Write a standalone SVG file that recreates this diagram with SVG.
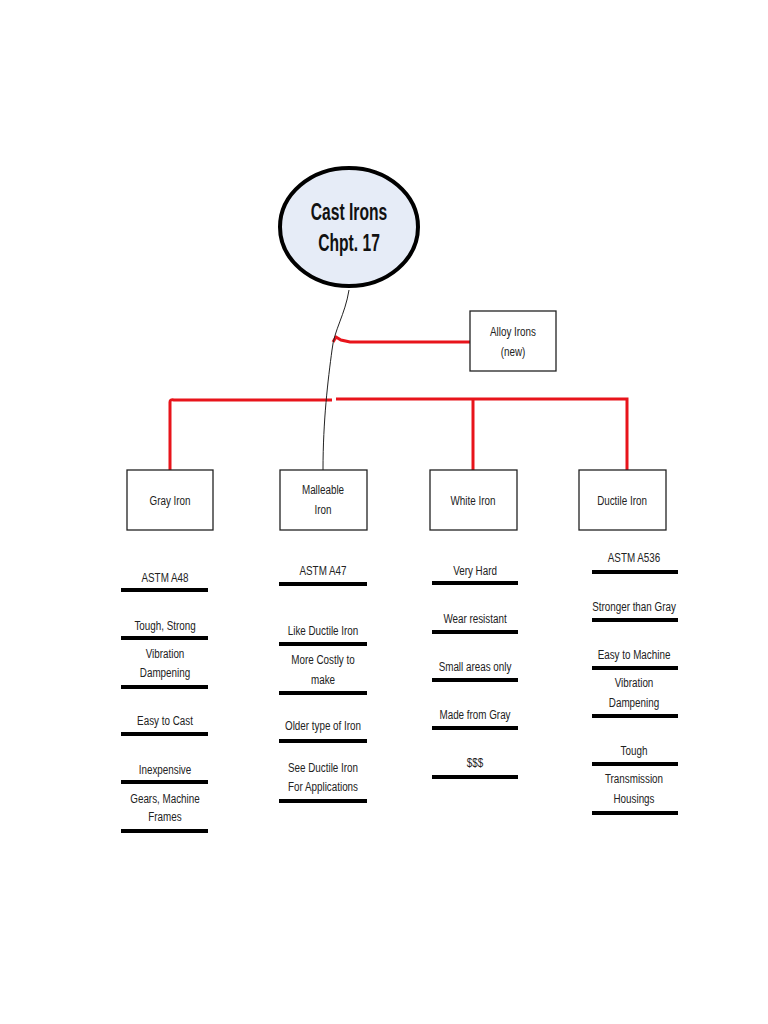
<svg xmlns="http://www.w3.org/2000/svg" width="768" height="1024" viewBox="0 0 768 1024">
<style>
.t{font-family:"Liberation Sans",Arial,sans-serif;font-size:13.5px;fill:#222;text-anchor:middle}
.h{font-family:"Liberation Sans",Arial,sans-serif;font-size:23px;font-weight:bold;fill:#111;text-anchor:middle}
.box{fill:#fff;stroke:#222;stroke-width:1.3}
.red{fill:none;stroke:#e8141b;stroke-width:3}
.ul{stroke:#000;stroke-width:4}
</style>
<rect width="768" height="1024" fill="#fff"/>
<g id="connectors">
<path class="red" d="M170,470 L170,402 Q170,399 174,400 L332,400 M336,399 L627,399 L627,473"/>
<path class="red" d="M473,399 L473,470"/>
<path class="red" d="M333,342 L336,337 L341,340 L350,342 L470,342"/>
<path d="M349,290 C345,315 334,330 332,350 C328,380 323,420 323,470" fill="none" stroke="#222" stroke-width="1"/>
</g>
<g id="root">
<ellipse cx="349" cy="227" rx="69" ry="59" fill="#e6ecf7" stroke="#000" stroke-width="4"/>
<text class="h" transform="translate(349 220) scale(0.68 1)">Cast Irons</text>
<text class="h" transform="translate(349 251) scale(0.68 1)">Chpt. 17</text>
</g>
<g id="alloy">
<rect class="box" x="470" y="311" width="86" height="60"/>
<text class="t" transform="translate(513 336) scale(0.73 1)">Alloy Irons</text>
<text class="t" transform="translate(513 356) scale(0.73 1)">(new)</text>
</g>
<g id="gray">
<rect class="box" x="127" y="470" width="86" height="60"/>
<text class="t" transform="translate(170 505) scale(0.73 1)">Gray Iron</text>
</g>
<g id="malleable">
<rect class="box" x="280" y="470" width="87" height="60"/>
<text class="t" transform="translate(323 494) scale(0.73 1)">Malleable</text>
<text class="t" transform="translate(323 514) scale(0.73 1)">Iron</text>
</g>
<g id="white">
<rect class="box" x="430" y="470" width="87" height="60"/>
<text class="t" transform="translate(473 505) scale(0.73 1)">White Iron</text>
</g>
<g id="ductile">
<rect class="box" x="579" y="470" width="87" height="60"/>
<text class="t" transform="translate(622 505) scale(0.73 1)">Ductile Iron</text>
</g>
<g id="gray-list">
<text class="t" transform="translate(165 582) scale(0.73 1)">ASTM A48</text>
<line class="ul" x1="121" y1="590" x2="208" y2="590"/>
<text class="t" transform="translate(165 630) scale(0.73 1)">Tough, Strong</text>
<line class="ul" x1="121" y1="638" x2="208" y2="638"/>
<text class="t" transform="translate(165 658) scale(0.73 1)">Vibration</text>
<text class="t" transform="translate(165 677) scale(0.73 1)">Dampening</text>
<line class="ul" x1="121" y1="687" x2="208" y2="687"/>
<text class="t" transform="translate(165 725) scale(0.73 1)">Easy to Cast</text>
<line class="ul" x1="121" y1="734" x2="208" y2="734"/>
<text class="t" transform="translate(165 774) scale(0.73 1)">Inexpensive</text>
<line class="ul" x1="121" y1="782" x2="208" y2="782"/>
<text class="t" transform="translate(165 803) scale(0.73 1)">Gears, Machine</text>
<text class="t" transform="translate(165 821) scale(0.73 1)">Frames</text>
<line class="ul" x1="121" y1="831" x2="208" y2="831"/>
</g>
<g id="malleable-list">
<text class="t" transform="translate(323 575) scale(0.73 1)">ASTM A47</text>
<line class="ul" x1="279" y1="584" x2="367" y2="584"/>
<text class="t" transform="translate(323 635) scale(0.73 1)">Like Ductile Iron</text>
<line class="ul" x1="279" y1="644" x2="367" y2="644"/>
<text class="t" transform="translate(323 664) scale(0.73 1)">More Costly to</text>
<text class="t" transform="translate(323 684) scale(0.73 1)">make</text>
<line class="ul" x1="279" y1="693" x2="367" y2="693"/>
<text class="t" transform="translate(323 730) scale(0.73 1)">Older type of Iron</text>
<line class="ul" x1="279" y1="741" x2="367" y2="741"/>
<text class="t" transform="translate(323 772) scale(0.73 1)">See Ductile Iron</text>
<text class="t" transform="translate(323 791) scale(0.73 1)">For Applications</text>
<line class="ul" x1="279" y1="801" x2="367" y2="801"/>
</g>
<g id="white-list">
<text class="t" transform="translate(475 575) scale(0.73 1)">Very Hard</text>
<line class="ul" x1="432" y1="583" x2="518" y2="583"/>
<text class="t" transform="translate(475 623) scale(0.73 1)">Wear resistant</text>
<line class="ul" x1="432" y1="632" x2="518" y2="632"/>
<text class="t" transform="translate(475 671) scale(0.73 1)">Small areas only</text>
<line class="ul" x1="432" y1="680" x2="518" y2="680"/>
<text class="t" transform="translate(475 719) scale(0.73 1)">Made from Gray</text>
<line class="ul" x1="432" y1="728" x2="518" y2="728"/>
<text class="t" transform="translate(475 767) scale(0.73 1)">$$$</text>
<line class="ul" x1="432" y1="777" x2="518" y2="777"/>
</g>
<g id="ductile-list">
<text class="t" transform="translate(634 562) scale(0.73 1)">ASTM A536</text>
<line class="ul" x1="592" y1="572" x2="678" y2="572"/>
<text class="t" transform="translate(634 611) scale(0.73 1)">Stronger than Gray</text>
<line class="ul" x1="592" y1="620" x2="678" y2="620"/>
<text class="t" transform="translate(634 659) scale(0.73 1)">Easy to Machine</text>
<line class="ul" x1="592" y1="668" x2="678" y2="668"/>
<text class="t" transform="translate(634 687) scale(0.73 1)">Vibration</text>
<text class="t" transform="translate(634 707) scale(0.73 1)">Dampening</text>
<line class="ul" x1="592" y1="716" x2="678" y2="716"/>
<text class="t" transform="translate(634 755) scale(0.73 1)">Tough</text>
<line class="ul" x1="592" y1="764" x2="678" y2="764"/>
<text class="t" transform="translate(634 783) scale(0.73 1)">Transmission</text>
<text class="t" transform="translate(634 803) scale(0.73 1)">Housings</text>
<line class="ul" x1="592" y1="813" x2="678" y2="813"/>
</g>
</svg>
